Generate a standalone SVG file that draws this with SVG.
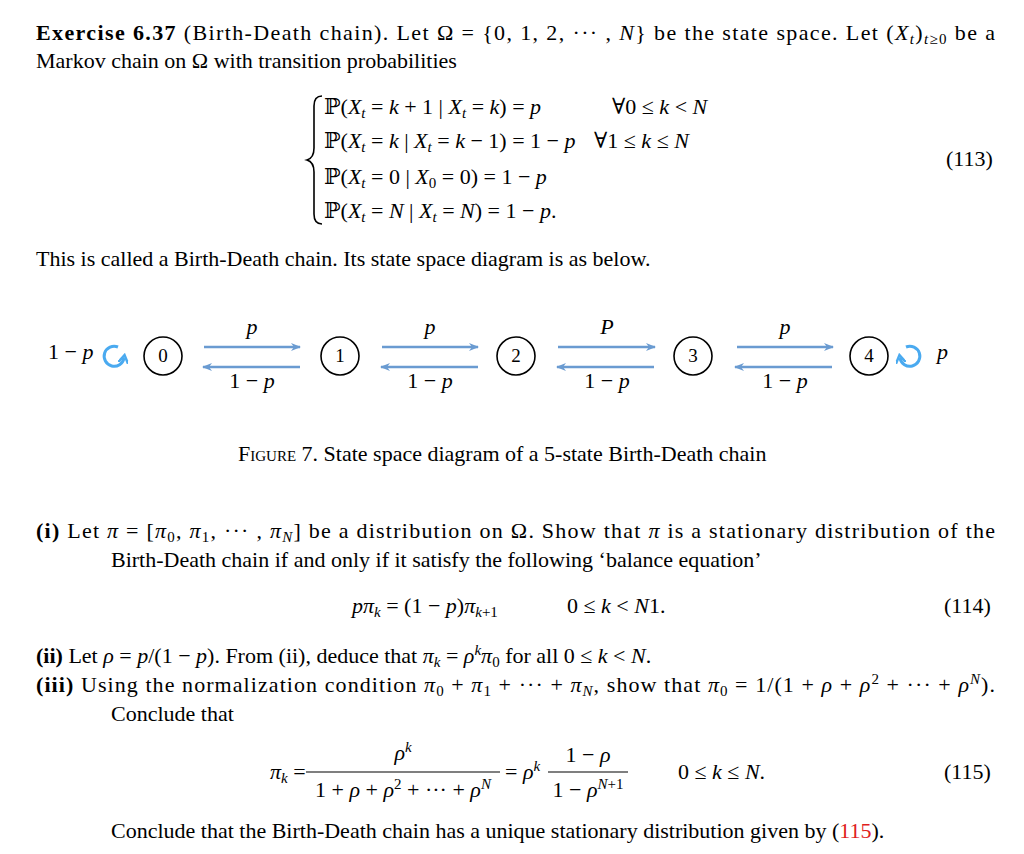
<svg xmlns="http://www.w3.org/2000/svg" width="1024" height="854" viewBox="0 0 1024 854">
<style>
text{font-family:"Liberation Serif","DejaVu Serif",serif;font-size:22px;fill:#000}
.i{font-style:italic}
.b{font-weight:bold}
.s{font-size:15px}
.n{fill:#fff;stroke:#000;stroke-width:1.6}
.e{stroke:#6a9bd1;stroke-width:2.5;fill:none}
.l{stroke:#4aaaf0;stroke-width:3;fill:none}
.lab{font-size:19px}
</style>
<defs>
<marker id="ah" markerWidth="10" markerHeight="8" refX="9" refY="4" orient="auto" markerUnits="userSpaceOnUse"><path d="M0,0 L10,4 L0,8 L3,4 Z" fill="#6a9bd1"/></marker>
<marker id="lh" markerWidth="10" markerHeight="10" refX="5" refY="5" orient="auto" markerUnits="userSpaceOnUse"><path d="M0,0 L8,5 L0,10" stroke="#4aaaf0" stroke-width="2.5" fill="none"/></marker>
</defs>
<rect width="1024" height="854" fill="#fff"/>

<text x="36" y="40" textLength="959" lengthAdjust="spacing"><tspan class="b">Exercise 6.37</tspan> (Birth-Death chain). Let Ω = {0, 1, 2, ··· , <tspan class="i">N</tspan>} be the state space. Let (<tspan class="i">X</tspan><tspan class="i s" dy="4">t</tspan><tspan dy="-4">)</tspan><tspan class="i s" dy="4">t</tspan><tspan class="s">≥0</tspan><tspan dy="-4"> be a</tspan></text>
<text x="36" y="68">Markov chain on Ω with transition probabilities</text>

<path d="M322,96 Q314,96 314,106 L314,148 Q314,158 307,160 Q314,162 314,172 L314,214 Q314,224 322,224" fill="none" stroke="#000" stroke-width="1.6"/>
<text x="324" y="114">ℙ(<tspan class="i">X</tspan><tspan class="i s" dy="4">t</tspan><tspan dy="-4"> = </tspan><tspan class="i">k</tspan> + 1 | <tspan class="i">X</tspan><tspan class="i s" dy="4">t</tspan><tspan dy="-4"> = </tspan><tspan class="i">k</tspan>) = <tspan class="i">p</tspan></text>
<text x="612" y="114">∀0 ≤ <tspan class="i">k</tspan> &lt; <tspan class="i">N</tspan></text>
<text x="324" y="148">ℙ(<tspan class="i">X</tspan><tspan class="i s" dy="4">t</tspan><tspan dy="-4"> = </tspan><tspan class="i">k</tspan> | <tspan class="i">X</tspan><tspan class="i s" dy="4">t</tspan><tspan dy="-4"> = </tspan><tspan class="i">k</tspan> − 1) = 1 − <tspan class="i">p</tspan></text>
<text x="594" y="148">∀1 ≤ <tspan class="i">k</tspan> ≤ <tspan class="i">N</tspan></text>
<text x="324" y="184">ℙ(<tspan class="i">X</tspan><tspan class="i s" dy="4">t</tspan><tspan dy="-4"> = 0 | </tspan><tspan class="i">X</tspan><tspan class="s" dy="4">0</tspan><tspan dy="-4"> = 0) = 1 − </tspan><tspan class="i">p</tspan></text>
<text x="324" y="218">ℙ(<tspan class="i">X</tspan><tspan class="i s" dy="4">t</tspan><tspan dy="-4"> = </tspan><tspan class="i">N</tspan> | <tspan class="i">X</tspan><tspan class="i s" dy="4">t</tspan><tspan dy="-4"> = </tspan><tspan class="i">N</tspan>) = 1 − <tspan class="i">p</tspan>.</text>
<text x="946" y="166">(113)</text>

<text x="36" y="266">This is called a Birth-Death chain. Its state space diagram is as below.</text>

<g id="edges">
<line class="e" x1="204" y1="347" x2="300" y2="347" marker-end="url(#ah)"/>
<line class="e" x1="300" y1="367" x2="203" y2="367" marker-end="url(#ah)"/>
<line class="e" x1="382" y1="347" x2="478" y2="347" marker-end="url(#ah)"/>
<line class="e" x1="478" y1="367" x2="381" y2="367" marker-end="url(#ah)"/>
<line class="e" x1="558" y1="347" x2="655" y2="347" marker-end="url(#ah)"/>
<line class="e" x1="654" y1="367" x2="557" y2="367" marker-end="url(#ah)"/>
<line class="e" x1="737" y1="347" x2="833" y2="347" marker-end="url(#ah)"/>
<line class="e" x1="832" y1="367" x2="735" y2="367" marker-end="url(#ah)"/>
<path class="l" d="M118,347 A10,10 0 1,0 124,358" marker-end="url(#lh)"/>
<path class="l" d="M906,347 A10,10 0 1,1 900,358" marker-end="url(#lh)"/>
<g class="lab">
<text x="252" y="334" class="i" text-anchor="middle">p</text>
<text x="252" y="388" text-anchor="middle">1 − <tspan class="i">p</tspan></text>
<text x="430" y="334" class="i" text-anchor="middle">p</text>
<text x="430" y="388" text-anchor="middle">1 − <tspan class="i">p</tspan></text>
<text x="607" y="334" class="i" text-anchor="middle">P</text>
<text x="607" y="388" text-anchor="middle">1 − <tspan class="i">p</tspan></text>
<text x="785" y="334" class="i" text-anchor="middle">p</text>
<text x="785" y="388" text-anchor="middle">1 − <tspan class="i">p</tspan></text>
<text x="48" y="359">1 − <tspan class="i">p</tspan></text>
<text x="937" y="359" class="i">p</text>
</g>
</g>
<g id="n0"><circle class="n" cx="163" cy="356" r="19"/><text x="163" y="362" text-anchor="middle" class="lab">0</text></g>
<g id="n1"><circle class="n" cx="340" cy="356" r="19"/><text x="340" y="362" text-anchor="middle" class="lab">1</text></g>
<g id="n2"><circle class="n" cx="516" cy="356" r="19"/><text x="516" y="362" text-anchor="middle" class="lab">2</text></g>
<g id="n3"><circle class="n" cx="693" cy="356" r="19"/><text x="693" y="362" text-anchor="middle" class="lab">3</text></g>
<g id="n4"><circle class="n" cx="869" cy="356" r="19"/><text x="869" y="362" text-anchor="middle" class="lab">4</text></g>

<text x="238" y="461" font-size="20">F<tspan font-size="15">IGURE</tspan> 7.  State space diagram of a 5-state Birth-Death chain</text>

<text x="36" y="538" textLength="959" lengthAdjust="spacing"><tspan class="b">(i)</tspan> Let <tspan class="i">π</tspan> = [<tspan class="i">π</tspan><tspan class="s" dy="4">0</tspan><tspan dy="-4">, </tspan><tspan class="i">π</tspan><tspan class="s" dy="4">1</tspan><tspan dy="-4">, ··· , </tspan><tspan class="i">π</tspan><tspan class="i s" dy="4">N</tspan><tspan dy="-4">] be a distribution on Ω. Show that </tspan><tspan class="i">π</tspan> is a stationary distribution of the</text>
<text x="111" y="567">Birth-Death chain if and only if it satisfy the following ‘balance equation’</text>

<text x="352" y="613"><tspan class="i">pπ</tspan><tspan class="i s" dy="4">k</tspan><tspan dy="-4"> = (1 − </tspan><tspan class="i">p</tspan>)<tspan class="i">π</tspan><tspan class="i s" dy="4">k</tspan><tspan class="s">+1</tspan></text>
<text x="567" y="613">0 ≤ <tspan class="i">k</tspan> &lt; <tspan class="i">N</tspan>1.</text>
<text x="944" y="613">(114)</text>

<text x="36" y="663"><tspan class="b">(ii)</tspan> Let <tspan class="i">ρ</tspan> = <tspan class="i">p</tspan>/(1 − <tspan class="i">p</tspan>). From (ii), deduce that <tspan class="i">π</tspan><tspan class="i s" dy="4">k</tspan><tspan dy="-4"> = </tspan><tspan class="i">ρ</tspan><tspan class="i s" dy="-8">k</tspan><tspan class="i" dy="8">π</tspan><tspan class="s" dy="4">0</tspan><tspan dy="-4"> for all 0 ≤ </tspan><tspan class="i">k</tspan> &lt; <tspan class="i">N</tspan>.</text>
<text x="36" y="692" textLength="959" lengthAdjust="spacing"><tspan class="b">(iii)</tspan> Using the normalization condition <tspan class="i">π</tspan><tspan class="s" dy="4">0</tspan><tspan dy="-4"> + </tspan><tspan class="i">π</tspan><tspan class="s" dy="4">1</tspan><tspan dy="-4"> + ··· + </tspan><tspan class="i">π</tspan><tspan class="i s" dy="4">N</tspan><tspan dy="-4">, show that </tspan><tspan class="i">π</tspan><tspan class="s" dy="4">0</tspan><tspan dy="-4"> = 1/(1 + </tspan><tspan class="i">ρ</tspan> + <tspan class="i">ρ</tspan><tspan class="s" dy="-8">2</tspan><tspan dy="8"> + ··· + </tspan><tspan class="i">ρ</tspan><tspan class="i s" dy="-8">N</tspan><tspan dy="8">).</tspan></text>
<text x="111" y="721">Conclude that</text>

<text x="270" y="779"><tspan class="i">π</tspan><tspan class="i s" dy="4">k</tspan><tspan dy="-4"> =</tspan></text>
<line x1="306" y1="772" x2="500" y2="772" stroke="#000" stroke-width="1.2"/>
<text x="403" y="760" text-anchor="middle"><tspan class="i">ρ</tspan><tspan class="i s" dy="-8">k</tspan></text>
<text x="403" y="797" text-anchor="middle">1 + <tspan class="i">ρ</tspan> + <tspan class="i">ρ</tspan><tspan class="s" dy="-8">2</tspan><tspan dy="8"> + ··· + </tspan><tspan class="i">ρ</tspan><tspan class="i s" dy="-8">N</tspan></text>
<text x="505" y="779">= <tspan class="i">ρ</tspan><tspan class="i s" dy="-8">k</tspan></text>
<line x1="548" y1="772" x2="628" y2="772" stroke="#000" stroke-width="1.2"/>
<text x="588" y="762" text-anchor="middle">1 − <tspan class="i">ρ</tspan></text>
<text x="588" y="797" text-anchor="middle">1 − <tspan class="i">ρ</tspan><tspan class="i s" dy="-8">N</tspan><tspan class="s">+1</tspan></text>
<text x="678" y="779">0 ≤ <tspan class="i">k</tspan> ≤ <tspan class="i">N</tspan>.</text>
<text x="944" y="779">(115)</text>

<text x="111" y="838">Conclude that the Birth-Death chain has a unique stationary distribution given by (<tspan fill="#e0201b">115</tspan>).</text>
</svg>
